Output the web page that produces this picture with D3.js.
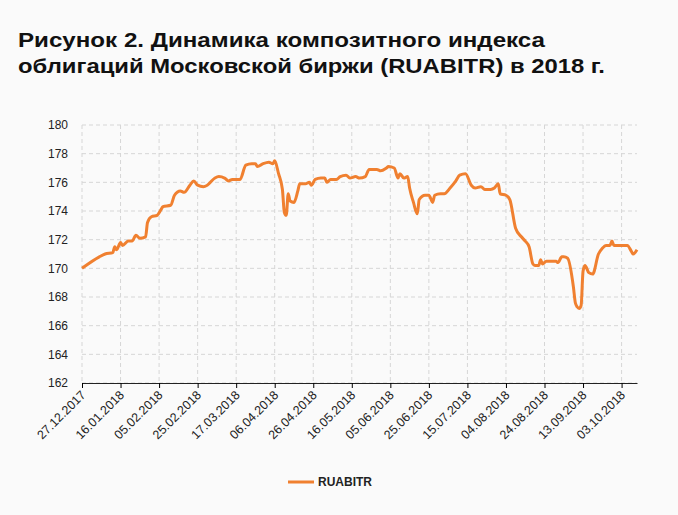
<!DOCTYPE html>
<html><head><meta charset="utf-8">
<script src="https://cdn.jsdelivr.net/npm/d3@7"></script>
<style>
body{margin:0;background:#fafafa;font-family:"Liberation Sans",Arial,sans-serif;}
.grid line{stroke:#d6d6d6;stroke-dasharray:4,3;}
.axis text{font-size:12px;fill:#222;}
</style></head>
<body><svg id="chart"></svg>
<script>
// days since 27.12.2017
const dayOffsets = [0,9,12,16,17,18,20,21,24,26,28,30,33,34,36,39,41,42,46,48,51,53,56,58,60,63,65,69,71,74,76,78,82,85,88,90,91,94,97,99,100,102,104,105,106,107,108,110,112,113,116,118,119,121,124,126,127,129,132,134,137,139,142,144,147,149,151,153,155,158,159,162,164,165,167,169,170,172,174,175,178,180,182,183,186,188,191,194,196,199,202,204,207,209,212,214,216,217,220,222,225,228,230,232,234,235,237,238,239,241,244,246,247,249,250,252,255,256,257,258,259,260,261,263,265,268,270,272,274,275,276,279,283,285,286,288];
const values = [170.0,170.8,171.0,171.1,171.5,171.3,171.8,171.6,171.9,171.9,172.3,172.1,172.2,173.2,173.6,173.7,174.1,174.3,174.4,175.1,175.4,175.3,175.8,176.1,175.8,175.7,175.8,176.3,176.4,176.3,176.1,176.2,176.2,177.2,177.3,177.3,177.1,177.3,177.4,177.3,177.5,176.6,175.5,173.9,173.7,175.2,174.7,174.6,175.4,175.9,175.9,176.0,175.8,176.2,176.3,176.3,176.0,176.2,176.2,176.4,176.5,176.3,176.4,176.3,176.4,176.9,176.9,176.9,176.8,177.0,177.1,177.0,176.3,176.6,176.3,176.4,175.6,174.6,173.8,174.8,175.1,175.1,174.6,175.1,175.2,175.2,175.6,176.1,176.5,176.6,175.8,175.6,175.7,175.5,175.5,175.6,175.9,175.2,175.1,174.8,172.8,172.2,171.9,171.5,170.3,170.2,170.2,170.6,170.3,170.5,170.5,170.5,170.4,170.8,170.8,170.7,168.7,167.6,167.3,167.2,167.4,169.8,170.2,169.7,169.6,171.0,171.4,171.6,171.6,171.9,171.6,171.6,171.6,171.2,171.0,171.3];
const tickLabels = ["27.12.2017","16.01.2018","05.02.2018","25.02.2018","17.03.2018","06.04.2018","26.04.2018","16.05.2018","05.06.2018","25.06.2018","15.07.2018","04.08.2018","24.08.2018","13.09.2018","03.10.2018"];
const yTicks = [162,164,166,168,170,172,174,176,178,180];
const seriesName = "RUABITR";

const W = 678, H = 515;
const margin = {top:125, right:41, bottom:132, left:82};
const svg = d3.select("#chart").attr("width", W).attr("height", H);

svg.append("text").attr("x",18).attr("y",47).attr("font-size",21).attr("font-weight","bold").attr("fill","#111")
  .attr("textLength",527).attr("lengthAdjust","spacingAndGlyphs")
  .text("Рисунок 2. Динамика композитного индекса");
svg.append("text").attr("x",18).attr("y",73).attr("font-size",21).attr("font-weight","bold").attr("fill","#111")
  .attr("textLength",587).attr("lengthAdjust","spacingAndGlyphs")
  .text("облигаций Московской биржи (RUABITR) в 2018 г.");

const parse = d3.timeParse("%d.%m.%Y");
const start = parse(tickLabels[0]);
const data = dayOffsets.map((d,i) => ({date: d3.timeDay.offset(start, d), value: values[i]}));

const x = d3.scaleTime()
  .domain([start, d3.timeDay.offset(start, 288)])
  .range([margin.left, W - margin.right]);
const y = d3.scaleLinear().domain([162,180]).range([H - margin.bottom, margin.top]);
const tickDates = tickLabels.map(parse);

// grid
svg.append("g").attr("class","grid")
  .selectAll("line.h").data(yTicks).enter().append("line")
  .attr("x1", margin.left).attr("x2", W - margin.right)
  .attr("y1", d => y(d)).attr("y2", d => y(d));
svg.append("g").attr("class","grid")
  .selectAll("line.v").data(tickDates).enter().append("line")
  .attr("x1", d => x(d)).attr("x2", d => x(d))
  .attr("y1", margin.top).attr("y2", H - margin.bottom);

// axes
const xg = svg.append("g").attr("class","axis")
  .attr("transform", `translate(0,${H - margin.bottom})`)
  .call(d3.axisBottom(x).tickValues(tickDates).tickFormat(d3.timeFormat("%d.%m.%Y")).tickSize(5).tickSizeOuter(0));
xg.select(".domain").attr("stroke","#222");
xg.selectAll("text").attr("transform","rotate(-45)").attr("dx","-0.5em").attr("dy","0.3em").style("text-anchor","end").style("font-size","12.5px");

const yg = svg.append("g").attr("class","axis")
  .attr("transform", `translate(${margin.left},0)`)
  .call(d3.axisLeft(y).tickValues(yTicks).tickSize(0).tickPadding(14));
yg.select(".domain").remove();

// line
svg.append("path").datum(data)
  .attr("fill","none").attr("stroke","#f08030").attr("stroke-width",3).attr("stroke-linejoin","round")
  .attr("d", d3.line().x(d => x(d.date)).y(d => y(d.value)).curve(d3.curveMonotoneX));

// legend
const lg = svg.append("g").attr("transform","translate(288,482)");
lg.append("line").attr("x1",0).attr("x2",26).attr("stroke","#f08030").attr("stroke-width",3);
lg.append("text").attr("x",30).attr("y",4).attr("font-size",12).attr("font-weight","bold").attr("fill","#222").text(seriesName);
</script></body></html>
